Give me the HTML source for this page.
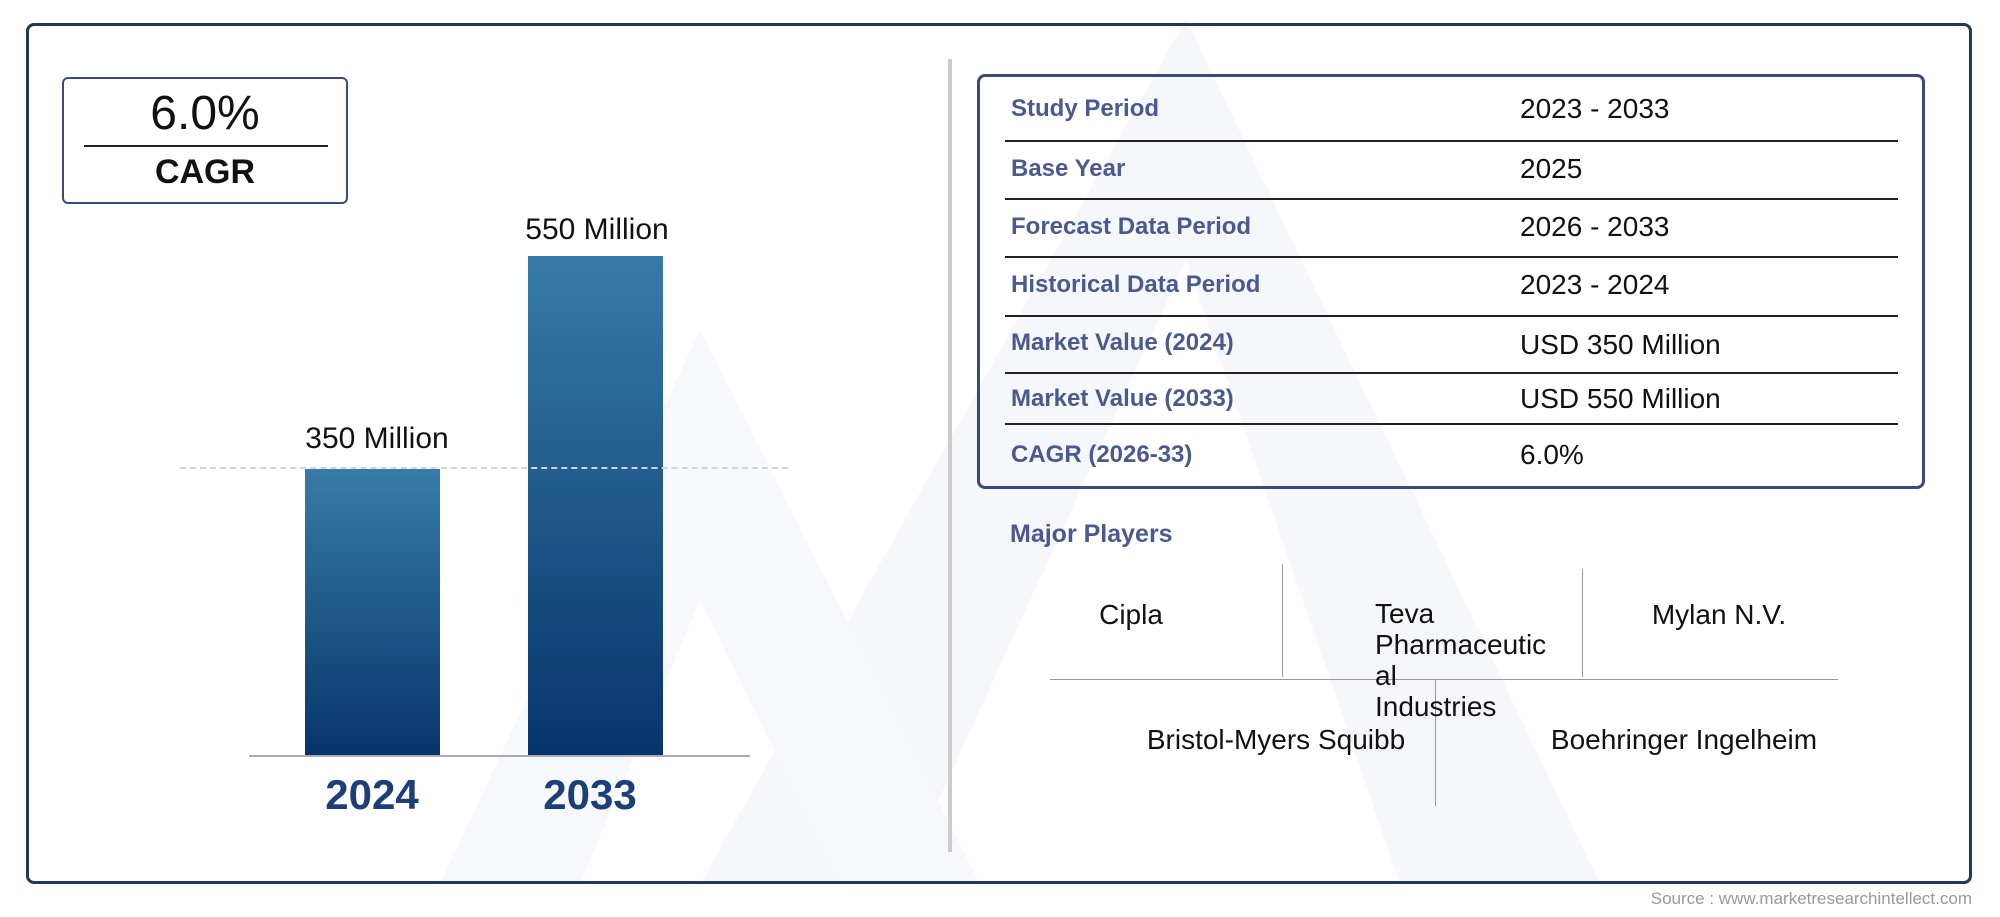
<!DOCTYPE html>
<html><head><meta charset="utf-8"><style>
*{margin:0;padding:0;box-sizing:border-box}
body{width:2000px;height:917px;background:#fff;position:relative;overflow:hidden;font-family:"Liberation Sans",sans-serif}
.a{position:absolute}
.lab{position:absolute;left:1011px;font-size:24px;font-weight:bold;color:#4a5a8f;transform:translateY(-50%)}
.val{position:absolute;left:1520px;font-size:28px;color:#111;transform:translateY(-50%)}
.hl{position:absolute;left:1005px;width:893px;height:2px;background:#222}
.p{position:absolute;font-size:28px;color:#111;transform:translate(-50%,-50%);white-space:nowrap}
</style></head><body>
<svg class="a" style="left:0;top:0" width="2000" height="917">
<polygon points="1186,19 700,884 900,884 1186,260 1400,884 1600,884" fill="#f5f7fa"/>
<polygon points="700,330 440,884 580,884 700,600 840,884 980,884" fill="#f6f8fb"/>
</svg>
<div class="a" style="left:26px;top:23px;width:1946px;height:861px;border:3px solid #1e3a5a;border-radius:8px"></div>
<div class="a" style="left:62px;top:77px;width:286px;height:127px;border:2.5px solid #3a4a7a;border-radius:6px"></div>
<div class="a" style="left:62px;top:86px;width:286px;text-align:center;font-size:48px;color:#111">6.0%</div>
<div class="a" style="left:84px;top:145px;width:244px;height:1.5px;background:#222"></div>
<div class="a" style="left:62px;top:153px;width:286px;text-align:center;font-size:34px;font-weight:bold;color:#111">CAGR</div>
<div class="a" style="left:305px;top:469px;width:135px;height:286px;background:linear-gradient(#377ba8,#07356b)"></div>
<div class="a" style="left:528px;top:256px;width:135px;height:499px;background:linear-gradient(#377ba8,#07356b)"></div>
<div class="a" style="left:180px;top:467px;width:608px;border-top:2px dashed #d0d4da"></div>
<div class="a" style="left:249px;top:755px;width:501px;height:1.5px;background:#aab"></div>
<div class="p" style="left:377px;top:439px;font-size:30px">350 Million</div>
<div class="p" style="left:597px;top:230px;font-size:30px">550 Million</div>
<div class="p" style="left:372px;top:795px;font-size:42px;font-weight:bold;color:#1c3f7a">2024</div>
<div class="p" style="left:590px;top:795px;font-size:42px;font-weight:bold;color:#1c3f7a">2033</div>
<div class="a" style="left:948px;top:59px;width:4px;height:793px;background:#ccc"></div>
<div class="a" style="left:977px;top:74px;width:948px;height:415px;border:3px solid #3a4a7a;border-radius:8px"></div>
<div class="lab" style="top:109px">Study Period</div><div class="val" style="top:109px">2023 - 2033</div>
<div class="hl" style="top:140px"></div>
<div class="lab" style="top:169px">Base Year</div><div class="val" style="top:169px">2025</div>
<div class="hl" style="top:198px"></div>
<div class="lab" style="top:227px">Forecast Data Period</div><div class="val" style="top:227px">2026 - 2033</div>
<div class="hl" style="top:256px"></div>
<div class="lab" style="top:285px">Historical Data Period</div><div class="val" style="top:285px">2023 - 2024</div>
<div class="hl" style="top:315px"></div>
<div class="lab" style="top:343px">Market Value (2024)</div><div class="val" style="top:345px">USD 350 Million</div>
<div class="hl" style="top:372px"></div>
<div class="lab" style="top:399px">Market Value (2033)</div><div class="val" style="top:399px">USD 550 Million</div>
<div class="hl" style="top:423px"></div>
<div class="lab" style="top:455px">CAGR (2026-33)</div><div class="val" style="top:455px">6.0%</div>
<div class="a" style="left:1010px;top:520px;font-size:25px;font-weight:bold;color:#4a5a8f">Major Players</div>
<div class="a" style="left:1282px;top:564px;width:1px;height:113px;background:#999"></div>
<div class="a" style="left:1582px;top:569px;width:1px;height:108px;background:#999"></div>
<div class="a" style="left:1050px;top:679px;width:788px;height:1px;background:#999"></div>
<div class="a" style="left:1435px;top:679px;width:1px;height:127px;background:#999"></div>
<div class="p" style="left:1131px;top:615px">Cipla</div>
<div class="a" style="left:1375px;top:598px;font-size:28px;line-height:31px;color:#111">Teva<br>Pharmaceutic<br>al<br>Industries</div>
<div class="p" style="left:1719px;top:615px">Mylan N.V.</div>
<div class="p" style="left:1276px;top:740px">Bristol-Myers Squibb</div>
<div class="p" style="left:1684px;top:740px">Boehringer Ingelheim</div>
<div class="a" style="right:28px;top:889px;font-size:17px;color:#999">Source : www.marketresearchintellect.com</div>
</body></html>
